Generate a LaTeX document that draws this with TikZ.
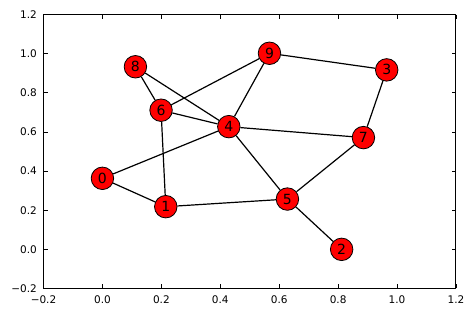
\documentclass[tikz,border=0pt]{standalone}
\usepackage{fontspec}
\setmainfont{DejaVu Sans}

\tikzset{
    vtx/.style={circle, draw=black, line width=0.8pt, fill=red, minimum size=22.5pt, inner sep=0pt, font=\fontsize{14}{14}\selectfont},
    edge/.style={black, line width=1.2pt},
    axtick/.style={black, line width=0.8pt},
    ticklabel/.style={inner sep=0pt, font=\fontsize{10.5}{12}\selectfont}
}

\begin{document}
\begin{tikzpicture}[x=294.6pt, y=195.7pt]
        \useasboundingbox (-0.3477,-0.3354) rectangle (1.2613,1.2742);
        
        % axes box, ticks and their labels
        \draw[line width=1pt] (-0.2,-0.2) rectangle (1.2,1.2);
        \foreach \v/\t in {-0.2/−0.2, 0.0/0.0, 0.2/0.2, 0.4/0.4, 0.6/0.6, 0.8/0.8, 1.0/1.0, 1.2/1.2} {
            \draw[axtick] (\v,-0.2) -- ++(0,4pt);
            \draw[axtick] (\v,1.2) -- ++(0,-4pt);
            \draw[axtick] (-0.2,\v) -- ++(4pt,0);
            \draw[axtick] (1.2,\v) -- ++(-4pt,0);
            \node[ticklabel, anchor=base, yshift=-15.5pt] at (\v,-0.2) {\t};
            \node[ticklabel, anchor=east, xshift=-6.5pt] at (-0.2,\v) {\t};
        }
        
        % vertices
        \node[vtx] (n0) at (0.000,0.363) {0};
        \node[vtx] (n1) at (0.215,0.218) {1};
        \node[vtx] (n2) at (0.812,0.000) {2};
        \node[vtx] (n3) at (0.965,0.917) {3};
        \node[vtx] (n4) at (0.429,0.627) {4};
        \node[vtx] (n5) at (0.628,0.257) {5};
        \node[vtx] (n6) at (0.199,0.711) {6};
        \node[vtx] (n7) at (0.886,0.571) {7};
        \node[vtx] (n8) at (0.112,0.933) {8};
        \node[vtx] (n9) at (0.567,1.002) {9};
        
        % edges
        \draw[edge] (n0) -- (n1);
        \draw[edge] (n0) -- (n4);
        \draw[edge] (n1) -- (n6);
        \draw[edge] (n1) -- (n5);
        \draw[edge] (n5) -- (n2);
        \draw[edge] (n5) -- (n4);
        \draw[edge] (n5) -- (n7);
        \draw[edge] (n7) -- (n3);
        \draw[edge] (n7) -- (n4);
        \draw[edge] (n3) -- (n9);
        \draw[edge] (n9) -- (n4);
        \draw[edge] (n9) -- (n6);
        \draw[edge] (n6) -- (n4);
        \draw[edge] (n6) -- (n8);
        \draw[edge] (n8) -- (n4);
        
\end{tikzpicture}
\end{document}
